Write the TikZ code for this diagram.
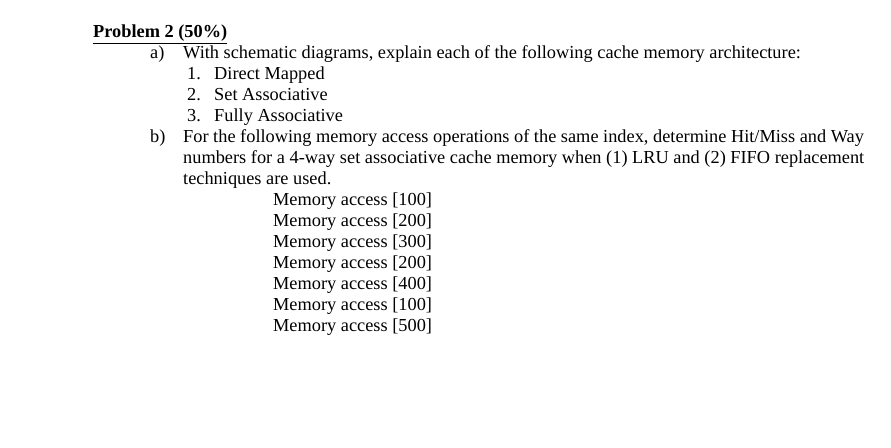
\documentclass[tikz,border=0pt]{standalone}
\usepackage{fontspec}
\setmainfont{Liberation Serif}
\begin{document}
\begin{tikzpicture}[x=1bp,y=-1bp,
    txt/.style={anchor=base west,inner sep=0pt,font=\fontsize{18.4}{22}\selectfont}]
    \useasboundingbox (0,0) rectangle (891,448);
    % heading
    \node[txt,font=\fontsize{18.4}{22}\selectfont\bfseries] (title) at (93,38) {\underline{Problem 2 (50\%)}};
    % part a
    \node[txt] (pa) at (150,59) {a)};
    \node[txt] (pat) at (183,59) {With schematic diagrams, explain each of the following cache memory architecture:};
    \node[txt] (n1) at (187,80) {1.};
    \node[txt] (t1) at (214,80) {Direct Mapped};
    \node[txt] (n2) at (187,101) {2.};
    \node[txt] (t2) at (214,101) {Set Associative};
    \node[txt] (n3) at (187,122) {3.};
    \node[txt] (t3) at (214,122) {Fully Associative};
    % part b
    \node[txt] (pb) at (150,143) {b)};
    \node[txt] (pb1) at (183,143) {For the following memory access operations of the same index, determine Hit/Miss and Way};
    \node[txt] (pb2) at (183,164) {numbers for a 4-way set associative cache memory when (1) LRU and (2) FIFO replacement};
    \node[txt] (pb3) at (183,185) {techniques are used.};
    \foreach \v [count=\i] in {100,200,300,200,400,100,500}
        \node[txt] (m\i) at (273,185+21*\i) {Memory access [\v]};
\end{tikzpicture}
\end{document}
